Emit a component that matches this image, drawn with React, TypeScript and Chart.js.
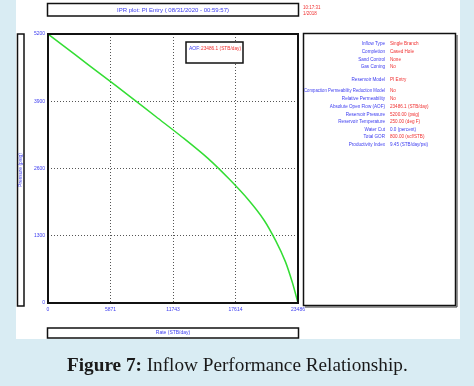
import React, { useEffect, useRef } from "react";
import { Chart, registerables } from "chart.js";

Chart.register(...registerables);

// Data
const pressures = [5200, 4800, 4400, 4000, 3600, 3200, 2800, 2400, 2000, 1600, 1200, 800, 400, 0];
const rates = [0, 2550, 5100, 7650, 10150, 12650, 15000, 17000, 18800, 20300, 21400, 22300, 22950, 23486];
const xTicks = [0, 5871, 11743, 17614, 23486];
const yTicks = [0, 1300, 2600, 3900, 5200];

const titleText = "IPR plot: PI Entry ( 08/31/2020 - 00:59:57)";
const xTitle = "Rate (STB/day)";
const yTitle = "Pressure (psig)";
const aofLabel = "AOF:";
const aofValue = "23486.1 (STB/day)";
const infoLabels = [
  "Inflow Type",
  "Completion",
  "Sand Control",
  "Gas Coning",
  "",
  "Reservoir Model",
  "",
  "Compaction Permeability Reduction Model",
  "Relative Permeability",
  "Absolute Open Flow (AOF)",
  "Reservoir Pressure",
  "Reservoir Temperature",
  "Water Cut",
  "Total GOR",
  "Productivity Index",
];
const infoValues = [
  "Single Branch",
  "Cased Hole",
  "None",
  "No",
  "",
  "PI Entry",
  "",
  "No",
  "No",
  "23486.1 (STB/day)",
  "5200.00 (psig)",
  "250.00 (deg F)",
  "0.0 (percent)",
  "800.00 (scf/STB)",
  "9.45 (STB/day/psi)",
];
const infoValueColors = ["r", "r", "r", "r", "", "r", "", "r", "r", "r", "r", "r", "b", "r", "b"];
const infoY = [44, 52, 60, 67, 0, 80, 0, 91, 99, 107, 115, 122, 130, 137, 145];

const BLUE = "#3c3cf0";
const RED = "#f03030";

const decorPlugin = {
  id: "decor",
  beforeDraw(chart: any) {
    const ctx = chart.ctx as CanvasRenderingContext2D;
    ctx.save();
    // background
    ctx.fillStyle = "#d9ecf3";
    ctx.fillRect(0, 0, 474, 386);
    ctx.fillStyle = "#ffffff";
    ctx.fillRect(16, 0, 444, 339);
    // plot area white
    const a = chart.chartArea;
    ctx.restore();
  },
  afterDraw(chart: any) {
    const ctx = chart.ctx as CanvasRenderingContext2D;
    const a = chart.chartArea;
    ctx.save();
    const box = (x: number, y: number, w: number, h: number, lw = 1.5) => {
      ctx.fillStyle = "#ffffff";
      ctx.fillRect(x, y, w, h);
      ctx.strokeStyle = "#111";
      ctx.lineWidth = lw;
      ctx.strokeRect(x, y, w, h);
    };
    // plot frame
    ctx.strokeStyle = "#111";
    ctx.lineWidth = 2;
    ctx.strokeRect(a.left, a.top, a.right - a.left, a.bottom - a.top);

    // title box
    box(47.5, 3.5, 251, 12.5);
    ctx.font = "6px Arial, 'Liberation Sans', sans-serif";
    ctx.fillStyle = BLUE;
    ctx.textAlign = "center";
    ctx.textBaseline = "middle";
    ctx.fillText(titleText, 173, 10);

    // top-right red stamp
    ctx.fillStyle = RED;
    ctx.font = "4.5px Arial, sans-serif";
    ctx.textAlign = "left";
    ctx.fillText("10:17:31", 303, 8);
    ctx.fillText("1/2018", 303, 14);

    // y title box
    box(17.5, 34, 6.5, 272);
    ctx.save();
    ctx.translate(21, 170);
    ctx.rotate(-Math.PI / 2);
    ctx.fillStyle = BLUE;
    ctx.font = "5px Arial, sans-serif";
    ctx.textAlign = "center";
    ctx.textBaseline = "middle";
    ctx.fillText(yTitle, 0, 0);
    ctx.restore();

    // x title box
    box(47.5, 328, 251, 10);
    ctx.fillStyle = BLUE;
    ctx.font = "5px Arial, sans-serif";
    ctx.textAlign = "center";
    ctx.textBaseline = "middle";
    ctx.fillText(xTitle, 173, 333);

    // AOF box
    box(186, 42, 57, 21);
    ctx.textAlign = "left";
    ctx.font = "5px Arial, sans-serif";
    ctx.fillStyle = BLUE;
    ctx.fillText(aofLabel, 189, 48.5);
    ctx.fillStyle = RED;
    ctx.fillText(aofValue, 201, 48.5, 40);

    // right info panel
    box(303.5, 33.5, 152, 272);
    ctx.strokeStyle = "#333";
    ctx.lineWidth = 1;
    ctx.beginPath();
    ctx.moveTo(457, 35);
    ctx.lineTo(457, 307);
    ctx.lineTo(305, 307);
    ctx.stroke();
    ctx.font = "4.6px Arial, sans-serif";
    ctx.textBaseline = "middle";
    infoLabels.forEach((lab, i) => {
      if (!lab) return;
      const y = infoY[i];
      ctx.textAlign = "right";
      ctx.fillStyle = BLUE;
      ctx.fillText(lab, 385, y, 81);
      ctx.textAlign = "left";
      ctx.fillStyle = infoValueColors[i] === "b" ? BLUE : RED;
      ctx.fillText(infoValues[i], 390, y, 60);
    });

    // caption
    ctx.fillStyle = "#1a1a1a";
    ctx.textBaseline = "alphabetic";
    const bold = "Figure 7:";
    const rest = " Inflow Performance Relationship.";
    let size = 20;
    const fit = () => {
      ctx.font = `bold ${size}px 'Liberation Serif', serif`;
      const wb = ctx.measureText(bold).width;
      ctx.font = `${size}px 'Liberation Serif', serif`;
      const wr = ctx.measureText(rest).width;
      return [wb, wr];
    };
    let [wb, wr] = fit();
    size = (size * 341) / (wb + wr);
    [wb, wr] = fit();
    const x0 = 67;
    ctx.textAlign = "left";
    ctx.font = `bold ${size}px 'Liberation Serif', serif`;
    ctx.fillText(bold, x0, 371);
    ctx.font = `${size}px 'Liberation Serif', serif`;
    ctx.fillText(rest, x0 + wb, 371);

    ctx.restore();
  },
};

export default function App() {
  const ref = useRef<HTMLCanvasElement | null>(null);
  useEffect(() => {
    document.body.style.margin = "0";
    if (!ref.current) return;
    const chart = new Chart(ref.current, {
      type: "line",
      data: {
        datasets: [
          {
            data: rates.map((q, i) => ({ x: q, y: pressures[i] })),
            borderColor: "#33dd33",
            borderWidth: 1.5,
            pointRadius: 0,
            tension: 0.3,
            fill: false,
          },
        ],
      },
      options: {
        responsive: false,
        animation: false,
        maintainAspectRatio: false,
        layout: { padding: { left: 0, top: 34, right: 474 - 298, bottom: 386 - 303 - 16 } },
        plugins: { legend: { display: false }, tooltip: { enabled: false } },
        scales: {
          x: {
            type: "linear",
            min: 0,
            max: 23486,
            afterBuildTicks: (s: any) => {
              s.ticks = xTicks.map((v) => ({ value: v }));
            },
            afterFit: (s: any) => {
              s.height = 16;
            },
            grid: {
              color: (c: any) => (c.index === 0 || c.index === xTicks.length - 1 ? "rgba(0,0,0,0)" : "#555"),
              lineWidth: 1,
              tickLength: 2,
              drawTicks: false,
            },
            border: { display: false, dash: [1, 2] },
            ticks: {
              color: BLUE,
              font: { size: 5, family: "Arial" },
              padding: 4,
              maxRotation: 0,
              autoSkip: false,
              callback: (v: any) => String(v),
            },
          },
          y: {
            type: "linear",
            min: 0,
            max: 5200,
            afterBuildTicks: (s: any) => {
              s.ticks = yTicks.map((v) => ({ value: v }));
            },
            afterFit: (s: any) => {
              s.width = 48;
            },
            grid: {
              color: (c: any) => (c.index === 0 || c.index === yTicks.length - 1 ? "rgba(0,0,0,0)" : "#555"),
              lineWidth: 1,
              drawTicks: false,
            },
            border: { display: false, dash: [1, 2] },
            ticks: {
              color: BLUE,
              font: { size: 5, family: "Arial" },
              padding: 3,
              autoSkip: false,
              callback: (v: any) => String(v),
            },
          },
        },
      },
      plugins: [decorPlugin],
    } as any);
    return () => chart.destroy();
  }, []);
  return (
    <div style={{ width: 474, height: 386 }}>
      <canvas ref={ref} width={474} height={386} style={{ display: "block" }} />
    </div>
  );
}
